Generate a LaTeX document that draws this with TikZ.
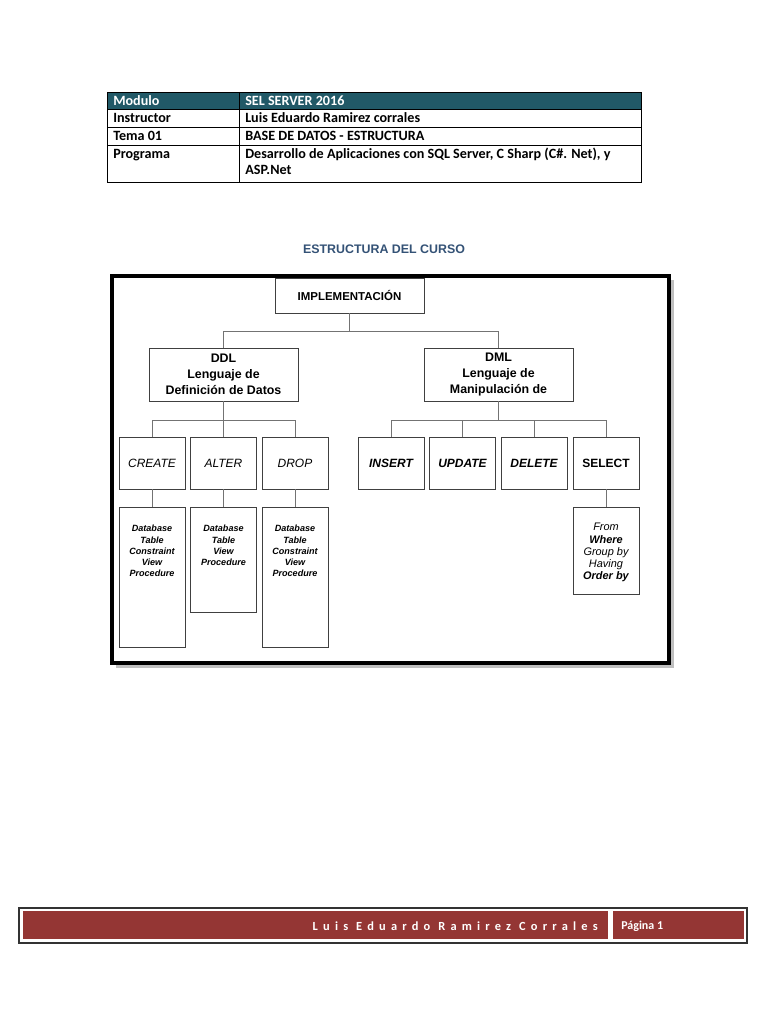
\documentclass[tikz,border=0pt]{standalone}
\usepackage{fontspec}
\setmainfont{Liberation Sans}
\newfontfamily\calibri{Carlito}
\newfontfamily\spacedcal[LetterSpace=42]{Carlito}
\usetikzlibrary{positioning}

\definecolor{headteal}{RGB}{33,89,103}
\definecolor{titleblue}{RGB}{52,82,118}
\definecolor{footred}{RGB}{148,54,52}

\begin{document}
\begin{tikzpicture}[x=0.75pt, y=-0.75pt,
  box/.style={draw=black!75, line width=0.7pt, inner sep=0pt, align=center},
  topbox/.style={box, minimum width=111.75pt, minimum height=26.25pt, font=\bfseries\fontsize{8.6}{10}\selectfont},
  langbox/.style={box, minimum width=111.75pt, minimum height=39.75pt, font=\bfseries\fontsize{9.3}{12}\selectfont},
  cmd/.style={box, minimum width=49.5pt, minimum height=39pt, font=\itshape\fontsize{9}{10}\selectfont},
  cmdb/.style={cmd, font=\bfseries\itshape\fontsize{9}{10}\selectfont},
  listbox/.style={box, minimum width=49.5pt, anchor=north},
  listtext/.style={inner sep=0pt, align=center, anchor=north, font=\bfseries\itshape\fontsize{6.8}{8.4}\selectfont},
  conn/.style={draw=black!55, line width=0.6pt},
  cell/.style={anchor=west, inner sep=0pt, font=\calibri\bfseries\fontsize{10.6}{12}\selectfont}
]

% --- page ---
\useasboundingbox (0,0) rectangle (768,1024);
\fill[white] (0,0) rectangle (768,1024);

% --- table ---
\fill[headteal] (107,92) rectangle (641,109);
\draw[line width=0.6pt] (107,92) rectangle (641,182);
\draw[line width=0.6pt] (107,109) -- (641,109);
\draw[line width=0.6pt] (107,127) -- (641,127);
\draw[line width=0.6pt] (107,145) -- (641,145);
\draw[line width=0.6pt] (239,92) -- (239,182);

\node[cell, text=white] (modulo) at (113,100.5) {Modulo};
\node[cell, text=white] (server) at (245,100.5) {SEL SERVER 2016};
\node[cell] (instructor) at (113,118) {Instructor};
\node[cell] (nombre) at (245,118) {Luis Eduardo Ramirez corrales};
\node[cell] (tema) at (113,136) {Tema 01};
\node[cell] (estructura) at (245,136) {BASE DE DATOS - ESTRUCTURA};
\node[cell] (programa) at (113,155) {Programa};
\node[cell, anchor=north west, align=left] (desarrollo) at (245,148)
  {Desarrollo de Aplicaciones con SQL Server, C Sharp (C\#. Net), y\\ASP.Net};

% --- title ---
\node[text=titleblue, font=\bfseries\fontsize{9.3}{11}\selectfont] (titulo) at (384,249) {ESTRUCTURA DEL CURSO};

% --- frame ---
\draw[black!25, line width=2.6pt] (672,280) -- (672,666) -- (116,666);
\draw[line width=2.6pt] (112,276) rectangle (669,663);

% --- boxes ---
\node[topbox] (impl) at (349.5,295.5) {IMPLEMENTACIÓN};
\node[langbox] (ddl) at (223.5,374.5) {DDL\\Lenguaje de\\Definición de Datos};
\node[langbox] (dml) at (498.5,374.5) {DML\\Lenguaje de\\Manipulación de};

\node[cmd] (create) at (152,463) {CREATE};
\node[cmd] (alter) at (223.5,463) {ALTER};
\node[cmd] (drop) at (295,463) {DROP};
\node[cmdb] (insert) at (391,463) {INSERT};
\node[cmdb] (update) at (462.5,463) {UPDATE};
\node[cmdb] (delete) at (534,463) {DELETE};
\node[cmd, font=\bfseries\fontsize{9}{10}\selectfont] (select) at (606,463) {SELECT};

\node[listbox, minimum height=105pt] (createlist) at (152,507) {};
\node[listbox, minimum height=78.75pt] (alterlist) at (223.5,507) {};
\node[listbox, minimum height=105pt] (droplist) at (295,507) {};
\node[listbox, minimum height=65.25pt] (selectlist) at (606,507) {};

\node[listtext] (createtxt) at (152,525) {Database\\Table\\Constraint\\View\\Procedure};
\node[listtext] (altertxt) at (223.5,525) {Database\\Table\\View\\Procedure};
\node[listtext] (droptxt) at (295,525) {Database\\Table\\Constraint\\View\\Procedure};
\node[listtext, font=\itshape\fontsize{8.2}{9.2}\selectfont] (selecttxt) at (606,523)
  {From\\\textbf{Where}\\Group by\\Having\\\textbf{Order by}};

% --- connectors ---
\draw[conn] (impl.south) -- ++(0,18) -| (ddl.north);
\draw[conn] (impl.south) -- ++(0,18) -| (dml.north);

\draw[conn] (ddl.south) -- ++(0,19) -| (create.north);
\draw[conn] (ddl.south) -- ++(0,19) -| (alter.north);
\draw[conn] (ddl.south) -- ++(0,19) -| (drop.north);

\draw[conn] (dml.south) -- ++(0,19) -| (insert.north);
\draw[conn] (dml.south) -- ++(0,19) -| (update.north);
\draw[conn] (dml.south) -- ++(0,19) -| (delete.north);
\draw[conn] (dml.south) -- ++(0,19) -| (select.north);

\draw[conn] (create.south) -- (createlist.north);
\draw[conn] (alter.south) -- (alterlist.north);
\draw[conn] (drop.south) -- (droplist.north);
\draw[conn] (select.south) -- (selectlist.north);

% --- footer ---
\draw[black!80, line width=0.8pt] (19,908) rectangle (747,943);
\fill[footred] (23,911) rectangle (608,939);
\fill[footred] (613,911) rectangle (744,939);
\node[anchor=east, inner sep=0pt, text=white, font=\spacedcal\bfseries\fontsize{9.3}{11}\selectfont] (autor) at (598,926) {Luis Eduardo Ramirez Corrales};
\node[anchor=west, inner sep=0pt, text=white, font=\calibri\bfseries\fontsize{9}{11}\selectfont] (pagina) at (621,926) {Página 1};

\end{tikzpicture}
\end{document}
